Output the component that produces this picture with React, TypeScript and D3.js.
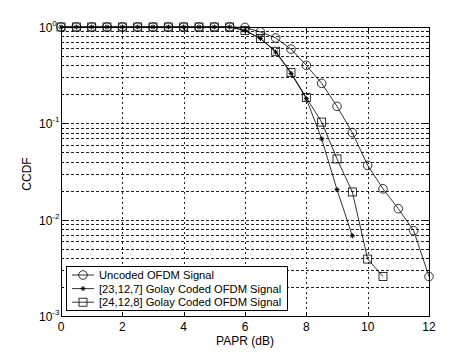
import React, { useEffect, useRef } from "react";
import * as d3 from "d3";

// PAPR axis (dB), one point every 0.5 dB
const paprUncoded = [0, 0.5, 1, 1.5, 2, 2.5, 3, 3.5, 4, 4.5, 5, 5.5, 6, 6.5, 7, 7.5, 8, 8.5, 9, 9.5, 10, 10.5, 11, 11.5, 12];
const ccdfUncoded = [1, 1, 1, 1, 1, 1, 1, 1, 1, 1, 1, 1, 0.99, 0.89, 0.77, 0.59, 0.4, 0.26, 0.15, 0.08, 0.0366, 0.0209, 0.013, 0.0077, 0.00257];

const paprG23 = [0, 0.5, 1, 1.5, 2, 2.5, 3, 3.5, 4, 4.5, 5, 5.5, 6, 6.5, 7, 7.5, 8, 8.5, 9, 9.5];
const ccdfG23 = [1, 1, 1, 1, 1, 1, 1, 1, 1, 1, 1, 1, 0.92, 0.76, 0.55, 0.33, 0.18, 0.069, 0.0205, 0.0068];

const paprG24 = [0, 0.5, 1, 1.5, 2, 2.5, 3, 3.5, 4, 4.5, 5, 5.5, 6, 6.5, 7, 7.5, 8, 8.5, 9, 9.5, 10, 10.5];
const ccdfG24 = [1, 1, 1, 1, 1, 1, 1, 1, 1, 1, 1, 1, 0.92, 0.76, 0.56, 0.336, 0.185, 0.103, 0.0427, 0.0194, 0.0039, 0.00257];

const xTicks = [0, 2, 4, 6, 8, 10, 12];
const yDecades = [0, -1, -2, -3];
const legendLabels = [
  "Uncoded OFDM Signal",
  "[23,12,7] Golay Coded OFDM Signal",
  "[24,12,8] Golay Coded OFDM Signal",
];

const W = 474;
const H = 355;
const left = 61;
const right = 429;
const top = 27;
const bottom = 316;
const font = "'Liberation Sans', Arial, sans-serif";

export default function App() {
  const ref = useRef<SVGSVGElement>(null);

  useEffect(() => {
    if (!ref.current) return;
    const svg = d3.select(ref.current);
    svg.selectAll("*").remove();

    const x = d3.scaleLinear().domain([0, 12]).range([left, right]);
    const y = d3.scaleLog().domain([1e-3, 1]).range([bottom, top]);

    svg.append("rect").attr("width", W).attr("height", H).attr("fill", "#fff");

    // minor log values for the horizontal grid
    const minors: number[] = [];
    for (let e = -3; e < 0; e++) {
      for (let m = 2; m <= 9; m++) minors.push(m * Math.pow(10, e));
    }
    const grid = svg.append("g").attr("stroke", "#222").attr("stroke-width", 1);
    grid
      .selectAll("line.h")
      .data([...minors, 1e-2, 1e-1])
      .join("line")
      .attr("x1", left)
      .attr("x2", right)
      .attr("y1", (d) => Math.round(y(d)) + 0.5)
      .attr("y2", (d) => Math.round(y(d)) + 0.5)
      .attr("stroke-dasharray", "3,2");
    grid
      .selectAll("line.v")
      .data(xTicks.slice(1, -1))
      .join("line")
      .attr("x1", (d) => Math.round(x(d)) + 0.5)
      .attr("x2", (d) => Math.round(x(d)) + 0.5)
      .attr("y1", top)
      .attr("y2", bottom)
      .attr("stroke-dasharray", "2,3");

    // tick marks inside the frame
    const ticks = svg.append("g").attr("stroke", "#000").attr("stroke-width", 1);
    xTicks.forEach((t) => {
      const px = Math.round(x(t)) + 0.5;
      ticks.append("line").attr("x1", px).attr("x2", px).attr("y1", bottom).attr("y2", bottom - 4);
      ticks.append("line").attr("x1", px).attr("x2", px).attr("y1", top).attr("y2", top + 4);
    });
    [...minors, 1e-3, 1e-2, 1e-1, 1].forEach((v) => {
      const py = Math.round(y(v)) + 0.5;
      const len = minors.includes(v) ? 3 : 5;
      ticks.append("line").attr("x1", left).attr("x2", left + len).attr("y1", py).attr("y2", py);
      ticks.append("line").attr("x1", right).attr("x2", right - len).attr("y1", py).attr("y2", py);
    });

    // frame
    svg
      .append("rect")
      .attr("x", left + 0.5)
      .attr("y", top + 0.5)
      .attr("width", right - left)
      .attr("height", bottom - top)
      .attr("fill", "none")
      .attr("stroke", "#000")
      .attr("stroke-width", 1);

    // tick labels
    const lab = svg.append("g").attr("font-family", font).attr("font-size", 12).attr("fill", "#000");
    xTicks.forEach((t) => {
      lab.append("text").attr("x", x(t)).attr("y", 331).attr("text-anchor", "middle").text(t);
    });
    yDecades.forEach((e) => {
      const t = lab.append("text").attr("x", 39).attr("y", y(Math.pow(10, e)) + 5);
      t.append("tspan").text("10");
      t.append("tspan").attr("font-size", 8).attr("dy", -6).text(String(e));
    });

    lab.append("text").attr("x", 245).attr("y", 345).attr("text-anchor", "middle").text("PAPR (dB)");
    lab
      .append("text")
      .attr("transform", "translate(31,174) rotate(-90)")
      .attr("text-anchor", "middle")
      .text("CCDF");

    // series
    const line = d3
      .line<[number, number]>()
      .x((d) => x(d[0]))
      .y((d) => y(d[1]));

    const series = [
      { xs: paprUncoded, ys: ccdfUncoded, marker: "circle" },
      { xs: paprG23, ys: ccdfG23, marker: "star" },
      { xs: paprG24, ys: ccdfG24, marker: "square" },
    ];

    const drawMarker = (g: any, kind: string, cx: number, cy: number) => {
      if (kind === "circle") {
        g.append("circle").attr("cx", cx).attr("cy", cy).attr("r", 4.3).attr("fill", "none").attr("stroke", "#000").attr("stroke-width", 0.8);
      } else if (kind === "square") {
        g.append("rect").attr("x", cx - 4).attr("y", cy - 4).attr("width", 8).attr("height", 8).attr("fill", "none").attr("stroke", "#000").attr("stroke-width", 0.8);
      } else {
        const s = 2.5;
        const p = `M${cx - s},${cy}L${cx + s},${cy}M${cx},${cy - s}L${cx},${cy + s}M${cx - s * 0.7},${cy - s * 0.7}L${cx + s * 0.7},${cy + s * 0.7}M${cx - s * 0.7},${cy + s * 0.7}L${cx + s * 0.7},${cy - s * 0.7}`;
        g.append("path").attr("d", p).attr("stroke", "#000").attr("stroke-width", 1);
      }
    };

    series.forEach((s) => {
      const pts = s.xs.map((v, i) => [v, s.ys[i]] as [number, number]);
      svg.append("path").attr("d", line(pts)).attr("fill", "none").attr("stroke", "#000").attr("stroke-width", 0.8);
      const g = svg.append("g");
      pts.forEach((p) => drawMarker(g, s.marker, x(p[0]), y(p[1])));
    });

    // legend
    const lg = svg.append("g");
    lg.append("rect")
      .attr("x", 66.5)
      .attr("y", 266.5)
      .attr("width", 221)
      .attr("height", 44)
      .attr("fill", "#fff")
      .attr("stroke", "#000");
    const markers = ["circle", "star", "square"];
    legendLabels.forEach((l, i) => {
      const ly = 275 + i * 13.6;
      lg.append("line").attr("x1", 72).attr("x2", 94).attr("y1", ly).attr("y2", ly).attr("stroke", "#000").attr("stroke-width", 0.8);
      drawMarker(lg, markers[i], 83, ly);
      lg.append("text")
        .attr("x", 99)
        .attr("y", ly + 4)
        .attr("font-family", font)
        .attr("font-size", 11.2)
        .text(l);
    });
  }, []);

  return (
    <svg
      ref={ref}
      width={W}
      height={H}
      style={{ position: "absolute", left: 0, top: 0 }}
    />
  );
}
